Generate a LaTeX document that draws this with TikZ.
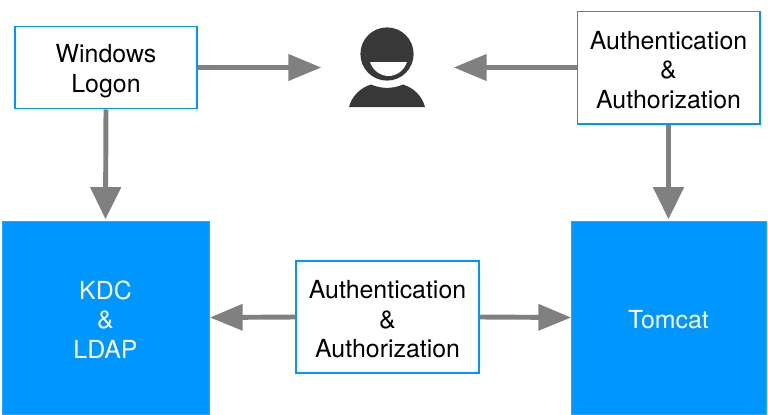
\documentclass[tikz,border=0pt]{standalone}
\usepackage{fontspec}
\setmainfont{TeX Gyre Heros}
\usetikzlibrary{arrows.meta}
\definecolor{boxblue}{RGB}{0,150,255}
\definecolor{edgeblue}{RGB}{40,165,255}
\definecolor{arrowgrey}{RGB}{128,128,128}
\definecolor{persongrey}{RGB}{56,56,56}
\newcommand{\capstrut}{\rule[-2.5pt]{0pt}{20.9pt}}
\tikzset{
    labelbox/.style = {draw=boxblue, line width=1.4pt, fill=white, align=center, inner sep=0pt,
        font=\fontsize{17.7}{21}\selectfont, minimum width=4.55cm},
    serverbox/.style = {draw=edgeblue, line width=0.6pt, fill=boxblue, text=white, align=center, inner sep=0pt,
        font=\fontsize{17.7}{21}\selectfont, minimum height=4.825cm},
    flow/.style = {draw=arrowgrey, line width=3.5pt, shorten >=-0.04cm, -{Triangle[length=0.82cm, width=0.64cm]}},
    flowdown/.style = {draw=arrowgrey, line width=3.5pt, shorten >=-0.04cm, -{Triangle[length=0.8cm, width=0.75cm]}}
}
\begin{document}
\begin{tikzpicture}[x=0.025cm, y=-0.025cm]
    \useasboundingbox (0, 0) rectangle (768, 414);

    \node[labelbox, minimum height=2.05cm] (logon) at (106, 67.5) {\capstrut Windows\\\capstrut Logon};
    \node[labelbox, minimum height=2.8cm] (authtop) at (668.5, 67.5) {\capstrut Authentication\\\capstrut\&\\\capstrut Authorization};
    \node[labelbox, minimum height=2.8cm] (authmid) at (387.5, 317) {\capstrut Authentication\\\capstrut\&\\\capstrut Authorization};
    \node[serverbox, minimum width=5.175cm] (kdc) at (105.5, 317.5) {\capstrut KDC\\\capstrut\&\\\capstrut LDAP};
    \node[serverbox, minimum width=4.875cm] (tomcat) at (668.5, 317.5) {\capstrut Tomcat};

    % person, its node only keeps the arrows away
    \node[minimum width=3.375cm, minimum height=1.9cm, inner sep=0pt] (person) at (387.5, 67.5) {};
    \fill[persongrey] (387, 54) circle (0.665cm);
    \fill[white] (370, 62) -- (407, 62) .. controls (404, 71) and (396, 76) .. (388.5, 76)
        .. controls (381, 76) and (373, 71) .. (370, 62) -- cycle;
    \fill[persongrey] (349, 107) .. controls (352, 96) and (360, 88) .. (371, 84.5)
        .. controls (381, 89) and (393, 89) .. (403, 84.5)
        .. controls (414, 88) and (422, 96) .. (425, 107) -- cycle;

    \draw[flow] (logon.east) -- (person.west);
    \draw[flow] (authtop.west) -- (person.east);
    \draw[flowdown] (logon.south) -- ([yshift=0.075cm]kdc.north);
    \draw[flowdown] (authtop.south) -- ([yshift=0.075cm]tomcat.north);
    \draw[flow] (authmid.west) -- ([xshift=0.05cm]kdc.east);
    \draw[flow] (authmid.east) -- ([xshift=-0.025cm]tomcat.west);
\end{tikzpicture}
\end{document}
